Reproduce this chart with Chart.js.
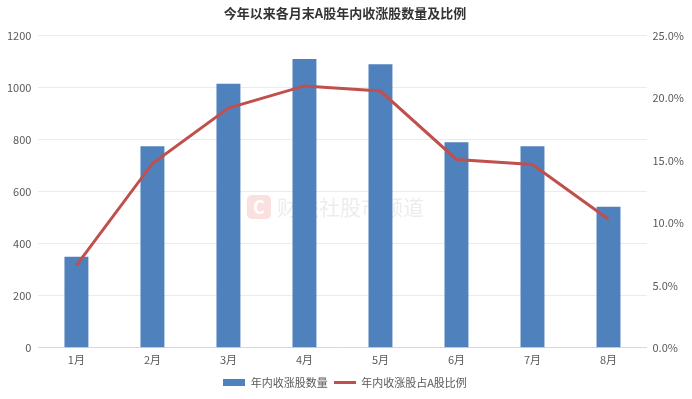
<!DOCTYPE html>
<html><head><meta charset="utf-8">
<script src="https://cdn.jsdelivr.net/npm/chart.js@4.4.1/dist/chart.umd.min.js"></script>
<style>html,body{margin:0;padding:0;background:#fff;}#wrap{width:692px;height:399px;position:relative;}</style>
</head><body><div id="wrap"><canvas id="c" width="692" height="399"></canvas></div>
<script>
const title = '今年以来各月末A股年内收涨股数量及比例';
const categories = ['1月','2月','3月','4月','5月','6月','7月','8月'];
const barName = '年内收涨股数量';
const lineName = '年内收涨股占A股比例';
const barValues = [350, 775, 1015, 1110, 1090, 790, 775, 542];
const lineValues = [0.066, 0.1476, 0.192, 0.2097, 0.2056, 0.1508, 0.1468, 0.103];
const leftTicks = [0, 200, 400, 600, 800, 1000, 1200];
const rightTicks = [0, 0.05, 0.10, 0.15, 0.20, 0.25];
const watermark = '财联社股市频道';

const FONT = "'Noto Sans CJK SC', 'Noto Sans', sans-serif";
const BLUE = '#4f81bd', RED = '#c0504d';

function swatch(w, h, color) {
  const c = document.createElement('canvas'); c.width = w; c.height = h;
  const x = c.getContext('2d'); x.fillStyle = color; x.fillRect(0, 0, w, h); return c;
}
const barIcon = swatch(22, 7, BLUE);
const lineIcon = swatch(22, 3, RED);

const wm = {
  id: 'wm',
  beforeDatasetsDraw(chart) {
    const ctx = chart.ctx; ctx.save();
    ctx.fillStyle = '#fbe0e0';
    ctx.beginPath(); ctx.roundRect ? ctx.roundRect(247, 195, 24, 24, 5) : ctx.rect(247,195,24,24); ctx.fill();
    ctx.fillStyle = '#ffffff';
    ctx.font = "bold 18px " + FONT; ctx.textAlign = 'center'; ctx.textBaseline = 'middle';
    ctx.fillText('C', 259, 207);
    ctx.fillStyle = '#ededed';
    ctx.font = "21px " + FONT; ctx.textAlign = 'left';
    ctx.fillText(watermark, 277, 207);
    ctx.restore();
  }
};

new Chart(document.getElementById('c'), {
  data: {
    labels: categories,
    datasets: [
      { type: 'line', label: lineName, data: lineValues, yAxisID: 'y1', borderColor: RED, backgroundColor: RED,
        borderWidth: 3, pointRadius: 0, tension: 0, order: 0, pointStyle: lineIcon },
      { type: 'bar', label: barName, data: barValues, yAxisID: 'y', backgroundColor: BLUE, borderWidth: 0,
        barPercentage: 0.315, categoryPercentage: 1, order: 1, pointStyle: barIcon }
    ]
  },
  options: {
    responsive: false, animation: false, devicePixelRatio: 1,
    layout: { padding: { left: 0, right: 2, top: 0, bottom: 1 } },
    plugins: {
      title: { display: true, text: title, color: '#333', font: { family: FONT, size: 13, weight: 'bold' }, padding: { top: 5, bottom: 15 } },
      legend: { position: 'bottom', reverse: true,
        labels: { usePointStyle: true, pointStyleWidth: 22, boxHeight: 7, padding: 6, color: '#595959', font: { family: FONT, size: 11 } } },
      tooltip: { enabled: false }
    },
    scales: {
      x: { grid: { display: false, drawTicks: false }, border: { color: '#d9d9d9' },
        ticks: { color: '#595959', font: { family: FONT, size: 11 }, padding: 5 } },
      y: { position: 'left', min: 0, max: 1200, afterBuildTicks: s => { s.ticks = leftTicks.map(v => ({ value: v })); },
        grid: { color: '#ebebeb', drawTicks: false }, border: { display: false },
        ticks: { color: '#595959', font: { family: FONT, size: 11 }, padding: 7, callback: v => String(v) } },
      y1: { position: 'right', min: 0, max: 0.25, afterBuildTicks: s => { s.ticks = rightTicks.map(v => ({ value: v })); },
        grid: { display: false, drawTicks: false }, border: { display: false },
        ticks: { color: '#595959', font: { family: FONT, size: 11 }, padding: 6, callback: v => (v * 100).toFixed(1) + '%' } }
    }
  },
  plugins: [wm]
});
</script></body></html>
